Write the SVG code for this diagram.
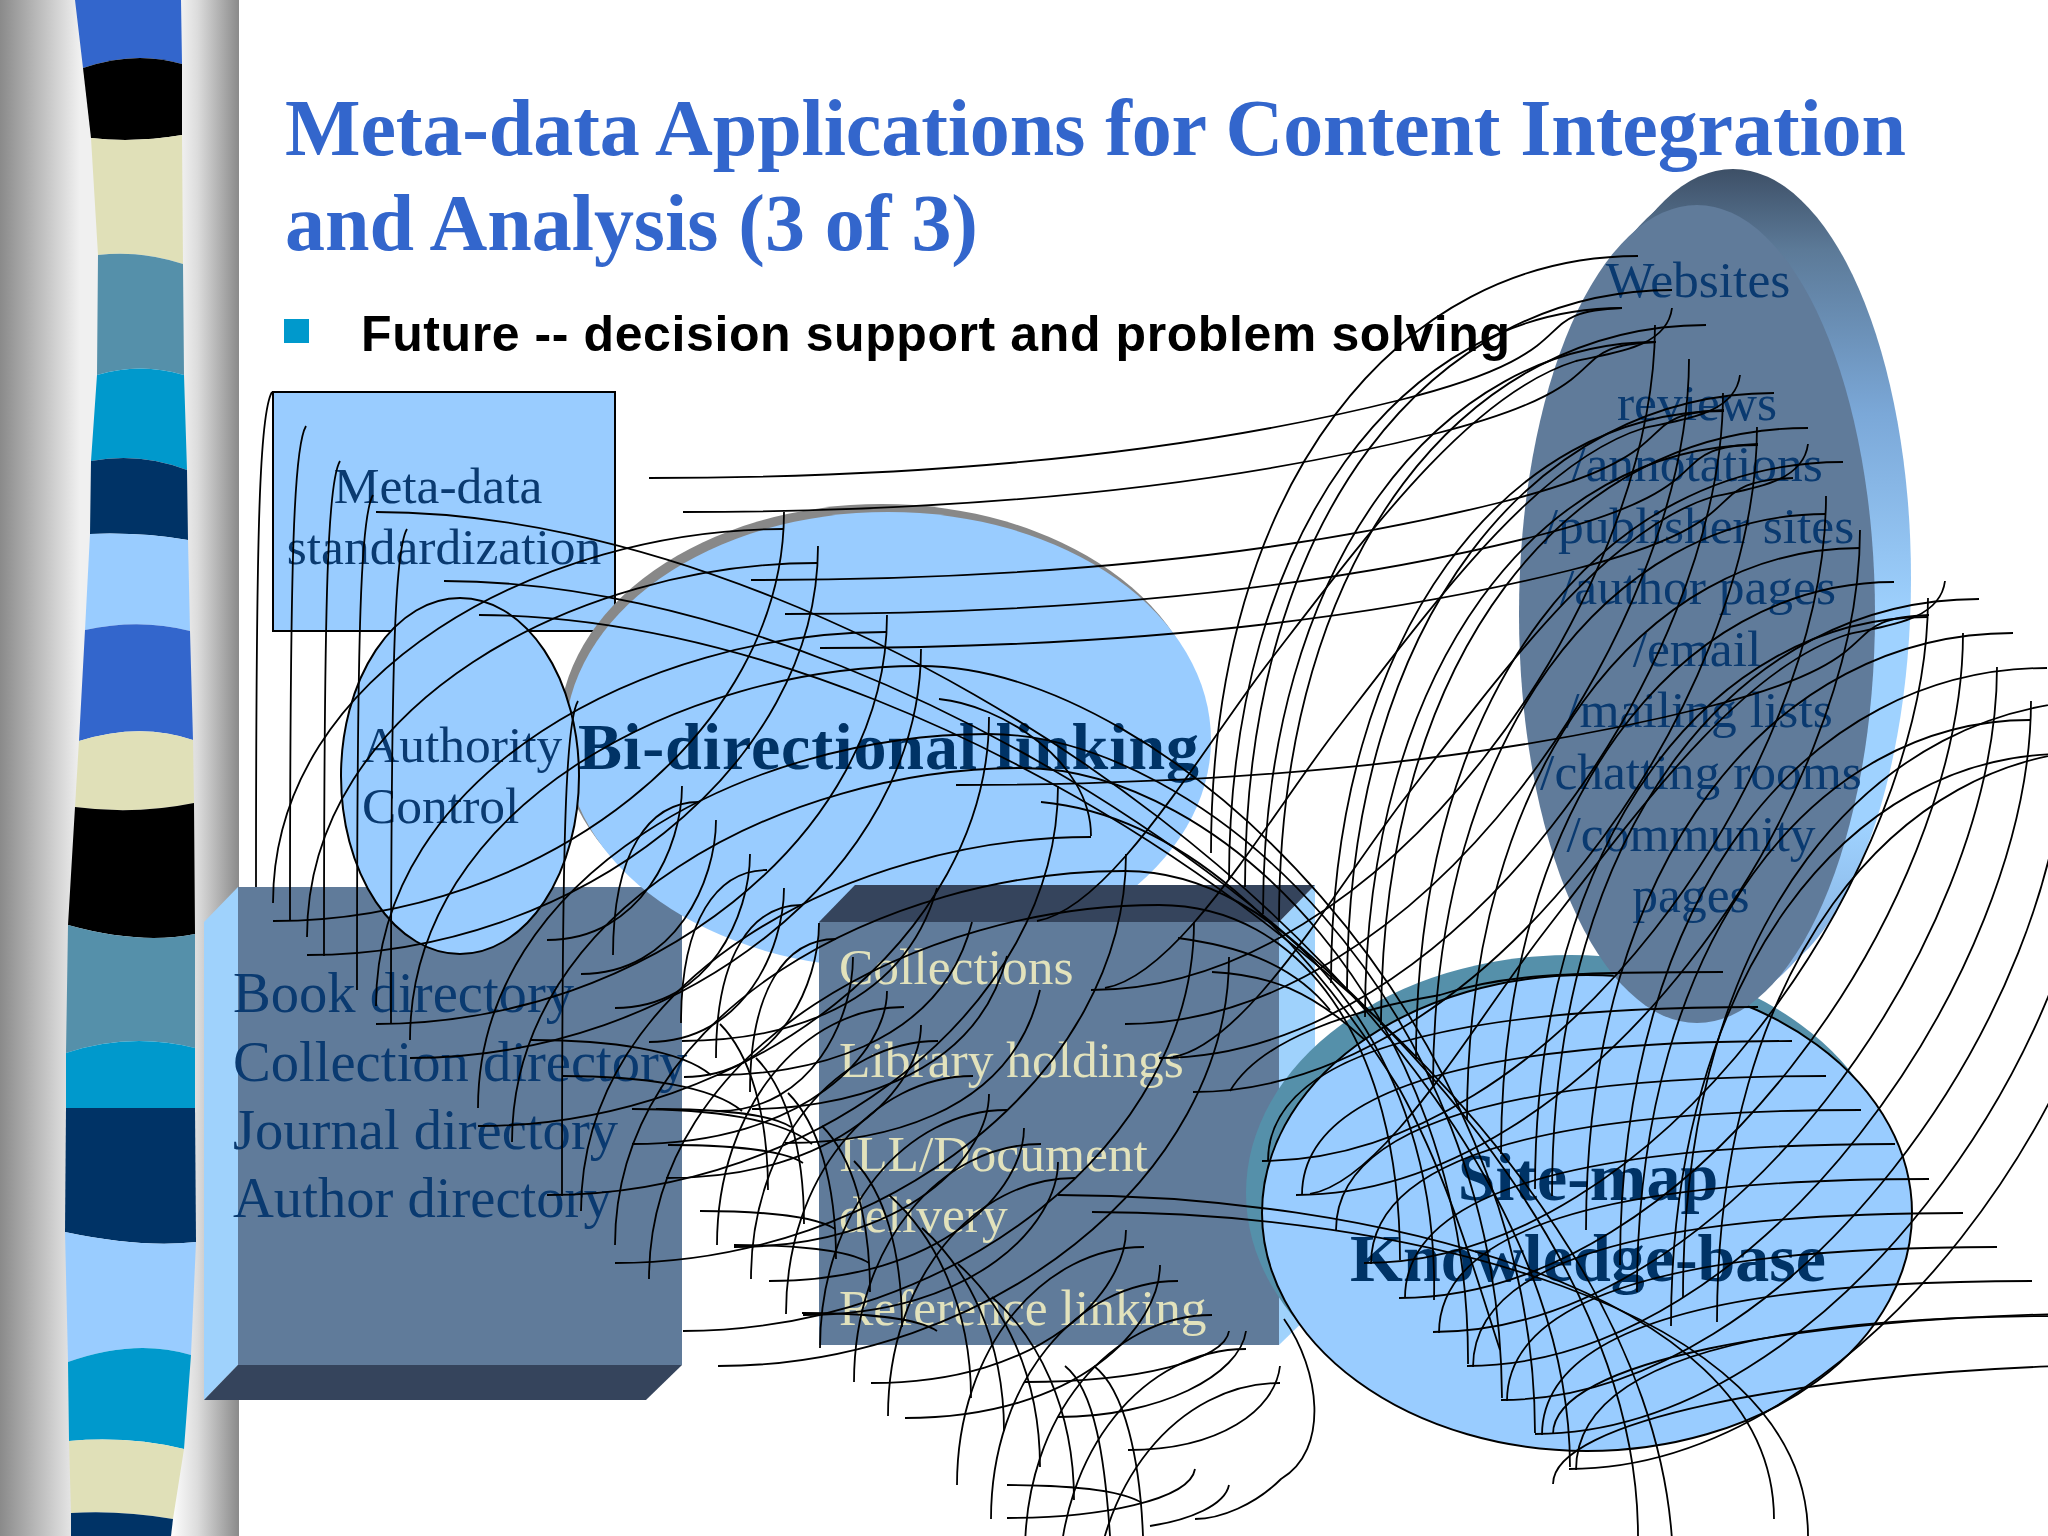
<svg xmlns="http://www.w3.org/2000/svg" width="2048" height="1536" viewBox="0 0 2048 1536">
<style>
.serif{font-family:"Liberation Serif","Times New Roman",serif}
.sans{font-family:"Liberation Sans",Arial,sans-serif}
.t{fill:#3366cc;font-weight:700;font-size:80px}
.nv{fill:#0a3a70;font-size:51.5px}
.cr{fill:#e2e2bc;font-size:51.5px}
.dir{fill:#0a3a70;font-size:56.6px}
.bd{fill:#003366;font-weight:700}
.mid{text-anchor:middle}
.lb{fill:#99ccff}
.fr{fill:#607b9a}
.sd{fill:#9fd2fc}
.dk{fill:#35445c}
#connectors use,#connectors path{fill:none;stroke:#000;stroke-width:1.8}
</style>
<defs>
<linearGradient id="gl" gradientUnits="userSpaceOnUse" x1="0" y1="0" x2="80" y2="0"><stop offset="0" stop-color="#8a8a8a"/><stop offset="1" stop-color="#f0f0f0"/></linearGradient>
<linearGradient id="gr" gradientUnits="userSpaceOnUse" x1="170" y1="0" x2="239" y2="0"><stop offset="0" stop-color="#ffffff"/><stop offset=".4" stop-color="#dcdcdc"/><stop offset="1" stop-color="#8a8a8a"/></linearGradient>
<linearGradient id="gw" gradientUnits="userSpaceOnUse" x1="0" y1="168" x2="0" y2="990"><stop offset="0" stop-color="#3d4f66"/><stop offset=".1" stop-color="#5c7a98"/><stop offset=".3" stop-color="#7ba8d8"/><stop offset=".55" stop-color="#9fd2ff"/><stop offset=".8" stop-color="#9fd2ff"/><stop offset="1" stop-color="#7fa8d8"/></linearGradient>
<path id="a" d="M0,0C-238,0-427,224-427,597"/>
<path id="b" d="M0,0C-215,0-393,220-393,572"/>
<path id="c" d="M0,0C300,0 551,-28 751,-78S871,-166 973,-170"/>
<path id="f" d="M0,0C0,270-270,665-564,665"/>
<path id="g" d="M0,0C-250,0-490,30-490,154"/>
<path id="e" d="M0,0C-5,40-60,45-96,53C-200,85-300,220-400,350C-470,440-560,600-635,613"/>
<path id="t" d="M0,0C0,220-240,409-511,409"/>
<path id="q" d="M0,0C-238,0-510,140-510,374"/>
<path id="d" d="M0,0C500,0 1194,500 1194,955"/>
<path id="d2" d="M0,0C300,0 716,90 716,324"/>
<path id="v" d="M0,0C-12,20-16,120-16,495"/>
<path id="n" d="M0,0C0,60-80,153-255,153"/>
<path id="n2" d="M0,0C0,60-40,154-135,154"/>
<path id="m" d="M0,0C-100,0-187,100-187,238"/>
<path id="m0" d="M0,0C-50,0-86,50-86,153"/>
<path id="w" d="M0,0C30,30 48,90 48,166"/>
<path id="w2" d="M0,0C45,40 82,110 82,203"/>
<path id="k" d="M0,0C60,0 115,5 135,18"/>
<path id="k2" d="M0,0C80,0 150,10 180,35"/>
</defs>
<rect width="2048" height="1536" fill="#fff"/>
<g id="sidebar">
<rect x="0" y="0" width="100" height="1536" fill="url(#gl)"/>
<rect x="100" y="0" width="139" height="1536" fill="url(#gr)"/>
<path fill="#3366cc" d="M75,0L181,0L182,64Q135,50 83,68Z"/>
<path fill="#000" d="M83,68Q135,50 182,64L182,135Q135,143 91,138Z"/>
<path fill="#e0e0b8" d="M91,138Q135,143 182,135L183,264Q140,250 98,255Z"/>
<path fill="#5590aa" d="M98,255Q140,250 183,264L184,375Q140,362 97,375Z"/>
<path fill="#0099cc" d="M97,375Q140,362 184,375L187,470Q140,452 91,461Z"/>
<path fill="#003366" d="M91,461Q140,452 187,470L188,540Q140,532 90,534Z"/>
<path fill="#99ccff" d="M90,534Q140,532 188,540L190,631Q140,618 85,630Z"/>
<path fill="#3366cc" d="M85,630Q140,618 190,631L193,740Q140,722 79,741Z"/>
<path fill="#e0e0b8" d="M79,741Q140,722 193,740L194,803Q135,815 75,807Z"/>
<path fill="#000" d="M75,807Q135,815 194,803L195,934Q140,945 68,925Z"/>
<path fill="#5590aa" d="M68,925Q140,945 195,934L195,1048Q130,1032 66,1053Z"/>
<path fill="#0099cc" d="M66,1053Q130,1032 195,1048L195,1108L66,1108Z"/>
<path fill="#003366" d="M66,1108L195,1108L196,1242Q140,1248 65,1232Z"/>
<path fill="#99ccff" d="M65,1232Q140,1248 196,1242L191,1355Q135,1338 68,1362Z"/>
<path fill="#0099cc" d="M68,1362Q135,1338 191,1355L184,1449Q130,1436 69,1441Z"/>
<path fill="#e0e0b8" d="M69,1441Q130,1436 184,1449L173,1519Q120,1510 71,1513Z"/>
<path fill="#003366" d="M71,1513Q120,1510 173,1519L171,1536L71,1536Z"/>
</g>
<g id="title">
<text class="serif t" x="285" y="155" textLength="1621" lengthAdjust="spacing">Meta-data Applications for Content Integration</text>
<text class="serif t" x="285" y="250" textLength="693" lengthAdjust="spacing">and Analysis (3 of 3)</text>
</g>
<g id="bullet">
<rect x="284" y="319" width="25" height="24" fill="#0099cc"/>
<text class="sans" x="361" y="351" font-size="50" font-weight="700" fill="#000" textLength="1149" lengthAdjust="spacing">Future -- decision support and problem solving</text>
</g>
<g id="meta-data">
<rect x="273" y="392" width="342" height="239" class="lb" stroke="#000" stroke-width="2"/>
<text class="serif nv mid" x="438" y="503">Meta-data</text>
<text class="serif nv mid" x="444" y="564">standardization</text>
</g>
<g id="directory">
<path class="sd" d="M204,922L238,887L238,1365L204,1400Z"/>
<path class="dk" d="M204,1400L238,1365L682,1365L646,1400Z"/>
<rect x="238" y="887" width="444" height="478" class="fr"/>
<text class="serif dir" x="233" y="1012">Book directory</text>
<text class="serif dir" x="233" y="1081">Collection directory</text>
<text class="serif dir" x="233" y="1149">Journal directory</text>
<text class="serif dir" x="233" y="1217">Author directory</text>
</g>
<g id="bi-directional">
<ellipse cx="882" cy="732" rx="323" ry="228" fill="#888"/>
<ellipse cx="888" cy="740" rx="323" ry="228" class="lb"/>
<text class="serif bd" x="578" y="769" font-size="66" textLength="621" lengthAdjust="spacing">Bi-directional linking</text>
</g>
<g id="authority">
<ellipse cx="460" cy="776" rx="119" ry="178" class="lb" stroke="#000" stroke-width="2"/>
<text class="serif nv" x="362" y="762">Authority</text>
<text class="serif nv" x="362" y="823">Control</text>
</g>
<g id="collections">
<path class="sd" d="M1279,922L1315,885L1315,1310L1279,1345Z"/>
<path class="dk" d="M819,922L855,885L1315,885L1279,922Z"/>
<rect x="819" y="922" width="460" height="423" class="fr"/>
<text class="serif cr" x="839" y="984">Collections</text>
<text class="serif cr" x="839" y="1077">Library holdings</text>
<text class="serif cr" x="839" y="1171">ILL/Document</text>
<text class="serif cr" x="839" y="1232">delivery</text>
<text class="serif cr" x="839" y="1325">Reference linking</text>
</g>
<g id="site-map">
<ellipse cx="1571" cy="1193" rx="325" ry="238" fill="#5590aa"/>
<ellipse cx="1587" cy="1213" rx="325" ry="238" class="lb" stroke="#000" stroke-width="2"/>
<text class="serif bd mid" x="1588" y="1200" font-size="68">Site-map</text>
<text class="serif bd mid" x="1588" y="1281" font-size="68">Knowledge-base</text>
</g>
<g id="websites">
<ellipse cx="1733" cy="578" rx="178" ry="409" fill="url(#gw)"/>
<ellipse cx="1715" cy="596" rx="178" ry="409" fill="url(#gw)"/>
<ellipse cx="1697" cy="614" rx="178" ry="409" class="fr"/>
<g class="serif nv mid">
<text x="1698" y="297">Websites</text>
<text x="1697" y="420">reviews</text>
<text x="1697" y="481">/annotations</text>
<text x="1699" y="543">/publisher sites</text>
<text x="1698" y="604">/author pages</text>
<text x="1697" y="666">/email</text>
<text x="1699" y="727">/mailing lists</text>
<text x="1701" y="789">/chatting rooms</text>
<text x="1691" y="851">/community</text>
<text x="1691" y="912">pages</text>
</g>
</g>
<g id="connectors">
<use href="#a" x="1638" y="256"/><use href="#a" x="1672" y="290"/><use href="#a" x="1706" y="325"/><use href="#a" x="1774" y="393"/><use href="#a" x="1808" y="428"/><use href="#a" x="1843" y="462"/><use href="#a" x="1979" y="599"/><use href="#a" x="2013" y="633"/><use href="#a" x="2047" y="668"/><use href="#a" x="2110" y="700"/>
<use href="#b" x="1622" y="308"/><use href="#b" x="1656" y="342"/><use href="#b" x="1724" y="411"/><use href="#b" x="1758" y="445"/><use href="#b" x="1826" y="514"/><use href="#b" x="1860" y="548"/><use href="#b" x="1894" y="582"/><use href="#b" x="1928" y="617"/><use href="#b" x="2030" y="720"/><use href="#b" x="2064" y="754"/><use href="#b" x="2110" y="750"/>
<use href="#c" x="649" y="478"/><use href="#c" x="683" y="512"/><use href="#c" x="751" y="580"/><use href="#c" x="785" y="614"/><use href="#c" x="820" y="648"/><use href="#c" x="956" y="785"/>
<use href="#f" x="1655" y="325"/><use href="#f" x="1689" y="359"/><use href="#f" x="1723" y="393"/><use href="#f" x="1757" y="427"/><use href="#f" x="1826" y="496"/><use href="#f" x="1860" y="530"/><use href="#f" x="1928" y="598"/><use href="#f" x="1963" y="633"/><use href="#f" x="1997" y="667"/><use href="#f" x="2031" y="701"/><use href="#f" x="2065" y="735"/><use href="#f" x="2099" y="769"/><use href="#f" x="2133" y="804"/>
<use href="#e" x="1672" y="308"/><use href="#e" x="1740" y="375"/><use href="#e" x="1808" y="444"/><use href="#e" x="1945" y="581"/>
<use href="#g" x="1758" y="1007"/><use href="#g" x="1792" y="1041"/><use href="#g" x="1826" y="1076"/><use href="#g" x="1861" y="1110"/><use href="#g" x="1895" y="1144"/><use href="#g" x="1929" y="1179"/><use href="#g" x="1963" y="1213"/><use href="#g" x="1997" y="1247"/><use href="#g" x="2032" y="1281"/><use href="#g" x="2066" y="1316"/>
<path d="M1723,972C1560,972 1500,975 1440,995C1350,1010 1260,1040 1230,1091"/>
<path d="M2060,1314C1800,1320 1553,1360 1553,1434"/>
<path d="M2060,1366C1800,1375 1553,1420 1553,1484"/>
<use href="#t" x="784" y="512"/><use href="#t" x="818" y="546"/><use href="#t" x="887" y="615"/><use href="#t" x="921" y="649"/><use href="#t" x="989" y="717"/><use href="#t" x="1058" y="786"/><use href="#t" x="1126" y="854"/><use href="#t" x="1194" y="922"/><use href="#t" x="1229" y="957"/>
<use href="#q" x="783" y="529"/><use href="#q" x="817" y="563"/><use href="#q" x="886" y="632"/><use href="#q" x="920" y="666"/><use href="#q" x="988" y="734"/><use href="#q" x="1022" y="768"/><use href="#q" x="1091" y="837"/><use href="#q" x="1125" y="871"/><use href="#q" x="1159" y="905"/>
<path d="M920,666C1170,666 1535,1026 1535,1433"/>
<path d="M988,734C1200,734 1500,1000 1502,1398"/>
<path d="M1022,768C1220,768 1470,1010 1468,1364"/>
<path d="M1125,871C1280,871 1440,1050 1434,1300"/>
<path d="M1159,905C1300,905 1400,1040 1400,1260"/>
<path d="M939,699C1000,705 1091,760 1091,836"/>
<path d="M1041,802C1180,815 1300,930 1400,1090C1450,1180 1480,1290 1500,1350"/>
<path d="M1178,938C1230,945 1290,960 1330,1010"/>
<path d="M1212,972C1270,975 1310,990 1365,1040"/>
<use href="#d" x="376" y="512"/><use href="#d" x="444" y="581"/><use href="#d" x="479" y="615"/>
<use href="#d2" x="1058" y="1195"/><use href="#d2" x="1092" y="1212"/>
<use href="#v" x="272" y="392"/><use href="#v" x="306" y="426"/><use href="#v" x="340" y="461"/><use href="#v" x="373" y="495"/><use href="#v" x="407" y="529"/><use href="#v" x="578" y="701"/>
<use href="#n" x="887" y="991"/><use href="#n" x="921" y="1025"/><use href="#n" x="989" y="1094"/><use href="#n" x="1024" y="1128"/><use href="#n" x="1058" y="1162"/><use href="#n" x="1126" y="1230"/><use href="#n" x="1160" y="1265"/>
<use href="#n2" x="682" y="786"/><use href="#n2" x="716" y="820"/><use href="#n2" x="750" y="854"/><use href="#n2" x="784" y="888"/><use href="#n2" x="819" y="923"/><use href="#n2" x="853" y="957"/>
<use href="#m0" x="699" y="802"/><use href="#m0" x="767" y="870"/><use href="#m0" x="802" y="905"/><use href="#m0" x="836" y="939"/>
<use href="#m" x="904" y="1007"/><use href="#m" x="938" y="1041"/><use href="#m" x="973" y="1076"/><use href="#m" x="1007" y="1110"/><use href="#m" x="1041" y="1144"/><use href="#m" x="1075" y="1178"/><use href="#m" x="1144" y="1247"/><use href="#m" x="1178" y="1281"/><use href="#m" x="1212" y="1315"/><use href="#m" x="1246" y="1349"/><use href="#m" x="1280" y="1383"/>
<use href="#w" x="720" y="1024"/><use href="#w" x="756" y="1058"/><use href="#w" x="788" y="1093"/><use href="#w" x="822" y="1126"/><use href="#w" x="854" y="1161"/>
<use href="#w2" x="889" y="1195"/><use href="#w2" x="922" y="1228"/><use href="#w2" x="958" y="1264"/><use href="#w2" x="992" y="1297"/>
<use href="#k" x="656" y="1109"/><use href="#k" x="668" y="1145"/><use href="#k" x="700" y="1211"/><use href="#k" x="734" y="1245"/><use href="#k" x="802" y="1313"/><use href="#k" x="1007" y="1485"/>
<use href="#k2" x="531" y="1040"/><use href="#k2" x="562" y="1076"/><use href="#k2" x="632" y="1109"/>
<path d="M682,1041C760,1041 900,1020 937,888"/><path d="M717,1075C800,1075 940,1050 972,922"/><path d="M752,1109C830,1109 975,1085 1007,956"/><path d="M785,1143C870,1143 1010,1120 1040,990"/>
<path d="M1065,1366C1095,1390 1105,1460 1110,1536"/><path d="M1094,1366C1125,1390 1140,1460 1143,1536"/>
<path d="M1284,1319C1320,1370 1330,1450 1281,1479C1255,1505 1220,1519 1195,1519"/>
<path d="M1280,1366C1275,1410 1220,1450 1128,1450"/>
<path d="M1229,1331C1225,1360 1140,1382 1025,1382"/>
<path d="M1246,1331C1240,1375 1160,1417 1058,1417"/>
<path d="M1195,1469C1190,1500 1100,1518 1007,1518"/>
<path d="M1229,1485C1225,1505 1190,1520 1150,1526"/>
</g>
</svg>
